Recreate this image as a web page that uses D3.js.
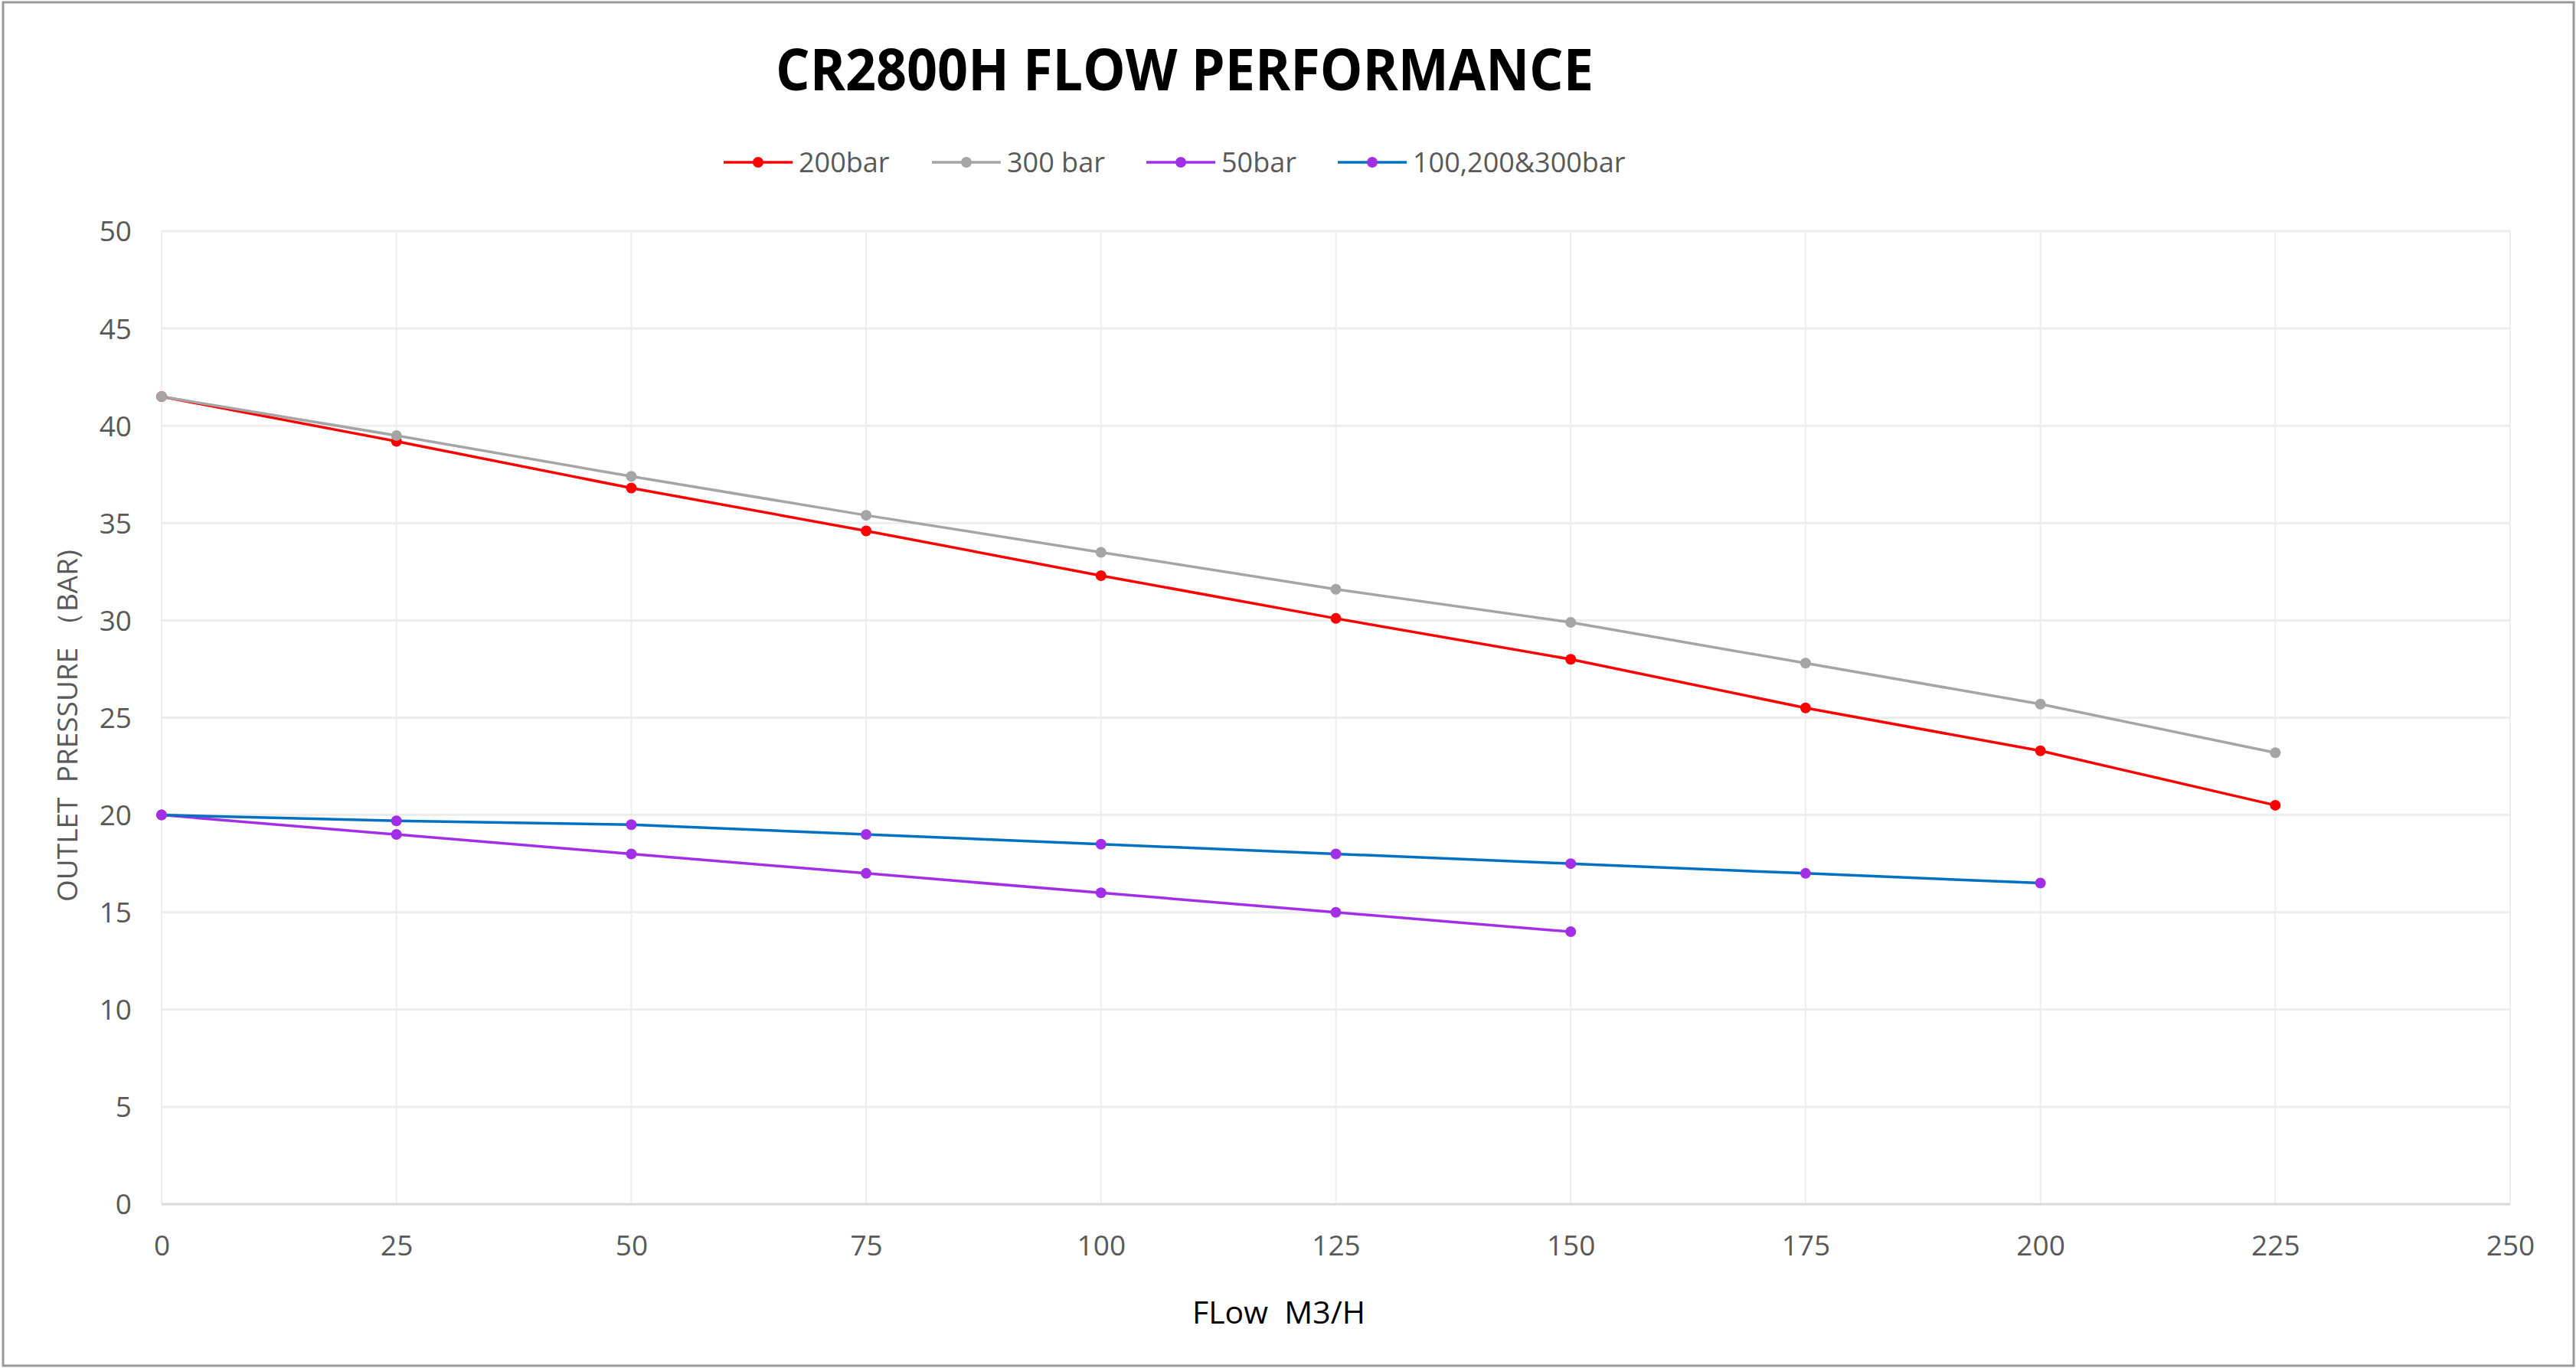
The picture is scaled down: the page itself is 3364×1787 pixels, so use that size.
<!DOCTYPE html>
<html>
<head>
<meta charset="utf-8">
<script src="https://cdn.jsdelivr.net/npm/d3@7"></script>
<style>
  html, body { margin: 0; padding: 0; background: #fff; }
  svg { display: block; }
</style>
</head>
<body>
<svg id="chart" width="3364" height="1787"></svg>
<script>
// ---- data ----
const flowX = [0, 25, 50, 75, 100, 125, 150, 175, 200, 225];
const bar200 = [41.5, 39.2, 36.8, 34.6, 32.3, 30.1, 28.0, 25.5, 23.3, 20.5];
const bar300 = [41.5, 39.5, 37.4, 35.4, 33.5, 31.6, 29.9, 27.8, 25.7, 23.2];
const bar50 = [20.0, 19.0, 18.0, 17.0, 16.0, 15.0, 14.0];
const bar100to300 = [20.0, 19.7, 19.5, 19.0, 18.5, 18.0, 17.5, 17.0, 16.5];
const seriesNames = ["200bar", "300 bar", "50bar", "100,200&300bar"];
const xTicks = [0, 25, 50, 75, 100, 125, 150, 175, 200, 225, 250];
const yTicks = [0, 5, 10, 15, 20, 25, 30, 35, 40, 45, 50];
const titleText = "CR2800H FLOW PERFORMANCE";
const xTitle = "FLow  M3/H";
const yTitle = "OUTLET  PRESSURE （BAR)";

const series = [
  { name: seriesNames[0], values: bar200, line: "#FF0000", marker: "#FF0000" },
  { name: seriesNames[1], values: bar300, line: "#A5A5A5", marker: "#A5A5A5" },
  { name: seriesNames[2], values: bar50, line: "#A22EE6", marker: "#A22EE6" },
  { name: seriesNames[3], values: bar100to300, line: "#0070C0", marker: "#A22EE6" }
];

const FONT = "'Open Sans', 'Noto Sans', sans-serif";
const svg = d3.select("#chart");

// outer border
svg.append("rect").attr("x", 4).attr("y", 3).attr("width", 3357).attr("height", 1781)
  .attr("fill", "#fff").attr("stroke", "#999999").attr("stroke-width", 3);

const L = 211, R = 3278, T = 302, B = 1573;
const x = d3.scaleLinear().domain([0, 250]).range([L, R]);
const y = d3.scaleLinear().domain([0, 50]).range([B, T]);

// gridlines
const g = svg.append("g");
g.selectAll(".vg").data(xTicks).enter().append("line")
  .attr("x1", d => x(d)).attr("x2", d => x(d)).attr("y1", T).attr("y2", B)
  .attr("stroke", "#EDEDED").attr("stroke-width", 2);
g.selectAll(".hg").data(yTicks.filter(d => d > 0)).enter().append("line")
  .attr("x1", L).attr("x2", R).attr("y1", d => y(d)).attr("y2", d => y(d))
  .attr("stroke", "#EDEDED").attr("stroke-width", 3);
// x axis line
g.append("line").attr("x1", L).attr("x2", R).attr("y1", B).attr("y2", B)
  .attr("stroke", "#D9D9D9").attr("stroke-width", 3);

// axis tick labels via d3 axes
const xAxis = d3.axisBottom(x).tickValues(xTicks).tickSize(0).tickPadding(0);
const xg = svg.append("g").attr("transform", `translate(0,${B})`).call(xAxis);
xg.select(".domain").remove();
xg.selectAll("text").attr("font-family", FONT).attr("font-size", 37)
  .attr("fill", "#595959").attr("dy", null).attr("y", 67);

const yAxis = d3.axisLeft(y).tickValues(yTicks).tickSize(0).tickPadding(0);
const yg = svg.append("g").attr("transform", `translate(172,0)`).call(yAxis);
yg.select(".domain").remove();
yg.selectAll("text").attr("font-family", FONT).attr("font-size", 37)
  .attr("fill", "#595959").attr("dy", "0.35em").attr("x", 0);

// lines and markers
const lineGen = d3.line().x((d, i) => x(flowX[i])).y(d => y(d));
series.forEach(s => {
  svg.append("path").datum(s.values).attr("d", lineGen)
    .attr("fill", "none").attr("stroke", s.line).attr("stroke-width", 3.5)
    .attr("stroke-linejoin", "round");
});
series.forEach(s => {
  svg.append("g").selectAll("circle").data(s.values).enter().append("circle")
    .attr("cx", (d, i) => x(flowX[i])).attr("cy", d => y(d)).attr("r", 7)
    .attr("fill", s.marker);
});

// title
svg.append("text").attr("x", 1547).attr("y", 118).attr("text-anchor", "middle")
  .attr("font-family", FONT).attr("font-weight", "bold").attr("font-size", 76)
  .attr("fill", "#000").attr("textLength", 1068).attr("lengthAdjust", "spacingAndGlyphs")
  .text(titleText);

// axis titles
svg.append("text").attr("x", 1670).attr("y", 1729).attr("text-anchor", "middle")
  .attr("font-family", FONT).attr("font-size", 41).attr("fill", "#000")
  .style("white-space", "pre")
  .text(xTitle);
svg.append("text").attr("transform", "translate(101,948) rotate(-90)")
  .attr("text-anchor", "middle").attr("font-family", FONT).attr("font-size", 37)
  .attr("fill", "#595959").style("white-space", "pre")
  .text(yTitle);

const legendStart = [945, 1217, 1497, 1747];
series.forEach((s, i) => {
  const it = svg.append("g").attr("transform", `translate(${legendStart[i]},212)`);
  it.append("line").attr("x1", 0).attr("x2", 90).attr("y1", 0).attr("y2", 0)
    .attr("stroke", s.line).attr("stroke-width", 3.5);
  it.append("circle").attr("cx", 45).attr("cy", 0).attr("r", 7).attr("fill", s.marker);
  it.append("text").attr("x", 98).attr("y", 13).attr("font-family", FONT)
    .attr("font-size", 36).attr("fill", "#595959").text(s.name);
});
</script>
</body>
</html>
